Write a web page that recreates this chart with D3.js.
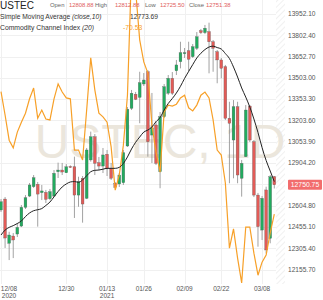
<!DOCTYPE html>
<html>
<head>
<meta charset="utf-8">
<script src="https://cdn.jsdelivr.net/npm/d3@7"></script>
<style>
  body { margin: 0; background: #fff; }
  svg { display: block; font-family: "Liberation Sans", Arial, sans-serif; }
</style>
</head>
<body>
<div id="chart"></div>
<script>
// daily candles, USTEC CFD
var dates = [
  "12/08","12/09","12/10","12/11","12/14","12/15","12/16","12/17","12/18","12/21","12/22","12/23","12/24","12/25","12/28","12/29","12/30","12/31",
  "01/01","01/04","01/05","01/06","01/07","01/08","01/11","01/12","01/13","01/14","01/15","01/18","01/19","01/20","01/21","01/22","01/25","01/26","01/27","01/28","01/29",
  "02/01","02/02","02/03","02/04","02/05","02/08","02/09","02/10","02/11","02/12","02/15","02/16","02/17","02/18","02/19","02/22","02/23","02/24","02/25","02/26",
  "03/01","03/02","03/03","03/04","03/05","03/08","03/09","03/10","03/11"
];
var open  = [12574,12651,12340,12391,12405,12461,12593,12672,12738,12755,12696,12698,12653,12672,12843,12855,12836,12880,
             12878,12679,12797,12656,12926,13089,12907,12883,12966,12867,12762,12757,12766,13024,13289,13388,13366,13460,
             13546,13101,13172,12843,13230,13395,13500,13553,13617,13676,13694,13652,13711,13835,13821,13828,13757,13687,
             13629,13582,13219,13066,13300,12797,12949,13305,13054,12679,12433,12715,12375,12808.88];
var high  = [12651,12665,12421,12412,12483,12609,12679,12764,12820,12771,12750,12715,12722,12855,12907,12905,12897,12888,
             12949,12808,12813,13010,13125,13108,12947,13010,12996,12905,12771,12834,12996,13298,13418,13404,13546,13537,
             13558,13397,13200,13263,13460,13523,13544,13629,13757,13713,13757,13741,13825,13847,13875,13891,13769,13699,
             13643,13594,13335,13347,13335,12926,13312,13312,13066,12694,12672,12738,12820,12812.88];
var low   = [12560,12307,12222,12236,12384,12454,12581,12665,12729,12457,12644,12623,12644,12665,12799,12820,12834,12870,
             12518,12597,12485,12651,12914,12820,12855,12834,12813,12785,12729,12736,12750,13017,13277,13347,13184,13446,
             12949,12904,12890,12727,13221,13383,13383,13523,13570,13643,13546,13643,13699,13811,13811,13535,13546,13465,
             13500,13207,12762,12797,12762,12668,12947,13052,12665,12316,12363,12270,12340,12725.50];
var close = [12632,12377,12398,12363,12452,12593,12660,12750,12801,12686,12708,12649,12703,12832,12855,12841,12878,12876,
             12679,12773,12616,12996,13089,12902,12883,12961,12867,12797,12734,12820,12977,13282,13395,13352,13469,13488,
             13054,13151,12902,13230,13441,13500,13395,13594,13680,13680,13634,13722,13792,13821,13852,13757,13711,13629,
             13570,13219,13184,13300,12820,12902,13277,13066,12679,12457,12656,12293,12808,12751.38];

// Simple Moving Average (close,10)
var sma = [12398,12433,12452,12464,12479,12497,12528,12553,12569,12576,12584,12606,12630,12667,12704,12736,12757,12771,
           12774,12769,12785,12815,12843,12853,12855,12861,12867,12867,12867,12874,12901,12947,13003,13050,13087,13122,
           13136,13158,13195,13224,13277,13323,13358,13397,13444,13499,13548,13596,13643,13676,13702,13720,13726,13716,
           13706,13674,13639,13579,13509,13432,13368,13298,13214,13119,13013,12922,12848,12773.69];

// Commodity Channel Index (20)
var cci = [202,150,94,77,112,134,154,186,210,143,161,141,139,186,219,201,188,186,
           72,72,50,161,277,206,154,146,134,79,-17,17,83,194,472,428,317,268,
           243,128,68,23,157,172,170,174,188,194,166,159,172,194,201,188,139,72,
           61,-1,-146,-103,-168,-223,-99,-99,-157,-206,-177,-161,-112,-70.53];

var priceTicks = [13952.10,13802.40,13652.70,13503.00,13353.30,13203.60,13053.90,
                  12904.20,12754.50,12604.80,12455.10,12305.40,12155.70];
var dateTicks = ["12/08","12/30","01/13","01/26","02/09","02/22","03/08"];
var yearTicks = {"12/08": "2020", "01/13": "2021"};

var lastPrice = "12750.75";

var width = 323, height = 300,
    plotRight = 276, hatchRight = 285, plotBottom = 284,
    green = "#22ab5f", red = "#e25b57", orange = "#f7a028";

var svg = d3.select("#chart").append("svg")
    .attr("width", width)
    .attr("height", height);

var defs = svg.append("defs");
var pat = defs.append("pattern")
    .attr("id", "hatch")
    .attr("width", 4).attr("height", 4)
    .attr("patternUnits", "userSpaceOnUse")
    .attr("patternTransform", "rotate(45)");
pat.append("line")
    .attr("x1", 0).attr("y1", 0).attr("x2", 0).attr("y2", 4)
    .attr("stroke", "#e6e6e6").attr("stroke-width", 1.2);
defs.append("clipPath").attr("id", "plotclip")
  .append("rect")
    .attr("x", 0).attr("y", 0)
    .attr("width", hatchRight).attr("height", plotBottom);

var xScale = d3.scaleLinear()
    .domain([0, dates.length - 1])
    .range([1, 274.3]);
var yScale = d3.scaleLinear()
    .domain([12155.70, 13952.10])
    .range([269.5, 14]);
var cciScale = d3.scaleLinear()
    .domain([-250, 250])
    .range([295, 70]);

// Grid
var grid = svg.append("g").attr("class", "grid");
grid.selectAll(".hgrid")
    .data(priceTicks)
    .enter().append("line")
    .attr("x1", 0).attr("x2", plotRight)
    .attr("y1", function(d) { return Math.round(yScale(d)) + 0.5; })
    .attr("y2", function(d) { return Math.round(yScale(d)) + 0.5; })
    .attr("stroke", "#f0f0f0");
grid.selectAll(".vgrid")
    .data(dateTicks)
    .enter().append("line")
    .attr("x1", function(d) { return Math.round(xScale(dates.indexOf(d))) + 0.5; })
    .attr("x2", function(d) { return Math.round(xScale(dates.indexOf(d))) + 0.5; })
    .attr("y1", 0).attr("y2", plotBottom)
    .attr("stroke", "#f0f0f0");

svg.append("rect")
    .attr("x", plotRight).attr("y", 0)
    .attr("width", hatchRight - plotRight).attr("height", plotBottom)
    .attr("fill", "url(#hatch)");

// Watermark
svg.append("text")
    .attr("x", 160).attr("y", 158)
    .attr("text-anchor", "middle")
    .attr("font-size", 48)
    .attr("fill", "#ebe6dc")
    .text("USTEC, 1D");

var plot = svg.append("g").attr("clip-path", "url(#plotclip)");

// Candles
var candles = plot.selectAll(".candle")
    .data(dates)
    .enter().append("g")
    .attr("class", "candle");
candles.append("line")
    .attr("x1", function(d, i) { return xScale(i); })
    .attr("x2", function(d, i) { return xScale(i); })
    .attr("y1", function(d, i) { return yScale(high[i]); })
    .attr("y2", function(d, i) { return yScale(low[i]); })
    .attr("stroke", "#8a8a8a")
    .attr("stroke-width", 0.8);
candles.append("rect")
    .attr("x", function(d, i) { return xScale(i) - 1.4; })
    .attr("width", 2.8)
    .attr("y", function(d, i) { return yScale(Math.max(open[i], close[i])); })
    .attr("height", function(d, i) {
        return Math.max(1, Math.abs(yScale(open[i]) - yScale(close[i])));
    })
    .attr("fill", function(d, i) { return close[i] >= open[i] ? green : red; })
    .attr("stroke", "#555")
    .attr("stroke-width", 0.3);

// CCI line
var cciLine = d3.line()
    .x(function(d, i) { return xScale(i); })
    .y(function(d) { return cciScale(d); });
plot.append("path")
    .datum(cci)
    .attr("d", cciLine)
    .attr("fill", "none")
    .attr("stroke", orange)
    .attr("stroke-width", 1.2);

// SMA line
var smaLine = d3.line()
    .x(function(d, i) { return xScale(i); })
    .y(function(d) { return yScale(d); })
    .curve(d3.curveMonotoneX);
plot.append("path")
    .datum(sma)
    .attr("d", smaLine)
    .attr("fill", "none")
    .attr("stroke", "#222")
    .attr("stroke-width", 1);

// Price axis (the label under the last-price box is hidden)
var lastY = yScale(+lastPrice);
var yAxis = svg.append("g").attr("class", "y axis");
yAxis.selectAll("text")
    .data(priceTicks.filter(function(d) { return Math.abs(yScale(d) - lastY) > 8; }))
    .enter().append("text")
    .attr("x", 288)
    .attr("y", function(d) { return yScale(d); })
    .attr("dy", "0.35em")
    .attr("font-size", 6.6)
    .attr("fill", "#555")
    .text(function(d) { return d.toFixed(2); });

svg.append("rect")
    .attr("x", 288).attr("y", lastY - 5)
    .attr("width", 34).attr("height", 10)
    .attr("rx", 1)
    .attr("fill", "#f26d6d");
svg.append("text")
    .attr("x", 305).attr("y", lastY)
    .attr("dy", "0.35em")
    .attr("text-anchor", "middle")
    .attr("font-size", 6.8)
    .attr("fill", "#fff")
    .text(lastPrice);

// Date axis
var xAxis = svg.append("g").attr("class", "x axis");
dateTicks.forEach(function(d) {
    var x = Math.max(9, xScale(dates.indexOf(d)));
    xAxis.append("text")
        .attr("x", x).attr("y", 291)
        .attr("text-anchor", "middle")
        .attr("font-size", 6.5)
        .attr("fill", "#555")
        .text(d);
    if (yearTicks[d]) {
        xAxis.append("text")
            .attr("x", x).attr("y", 298)
            .attr("text-anchor", "middle")
            .attr("font-size", 6.5)
            .attr("fill", "#555")
            .text(yearTicks[d]);
    }
});

// Legend
var legend = svg.append("g").attr("class", "legend");
legend.append("text")
    .attr("x", 0).attr("y", 9)
    .attr("font-size", 10)
    .attr("fill", "#222")
    .text("USTEC");
var ohlc = [["Open", "12808.88", 50, 69], ["High", "12812.88", 95, 115],
            ["Low", "12725.50", 145, 160], ["Close", "12751.38", 189, 206]];
ohlc.forEach(function(d) {
    legend.append("text")
        .attr("x", d[2]).attr("y", 7.4)
        .attr("font-size", 5.9).attr("fill", "#666")
        .text(d[0]);
    legend.append("text")
        .attr("x", d[3]).attr("y", 7.4)
        .attr("font-size", 5.9).attr("fill", "#e05c5c")
        .text(d[1]);
});
var l1 = legend.append("text").attr("x", 0).attr("y", 18.5).attr("font-size", 6.7).attr("fill", "#333");
l1.append("tspan").text("Simple Moving Average ");
l1.append("tspan").attr("font-style", "italic").text("(close,10)");
legend.append("text")
    .attr("x", 130).attr("y", 18.5)
    .attr("font-size", 6.7).attr("fill", "#333")
    .text(sma[sma.length - 1].toFixed(2));
var l2 = legend.append("text").attr("x", 0).attr("y", 29.5).attr("font-size", 6.8).attr("fill", "#333");
l2.append("tspan").text("Commodity Channel Index ");
l2.append("tspan").attr("font-style", "italic").text("(20)");
legend.append("text")
    .attr("x", 123).attr("y", 29.5)
    .attr("font-size", 6.8).attr("fill", orange)
    .text(cci[cci.length - 1].toFixed(2));
</script>
</body>
</html>
